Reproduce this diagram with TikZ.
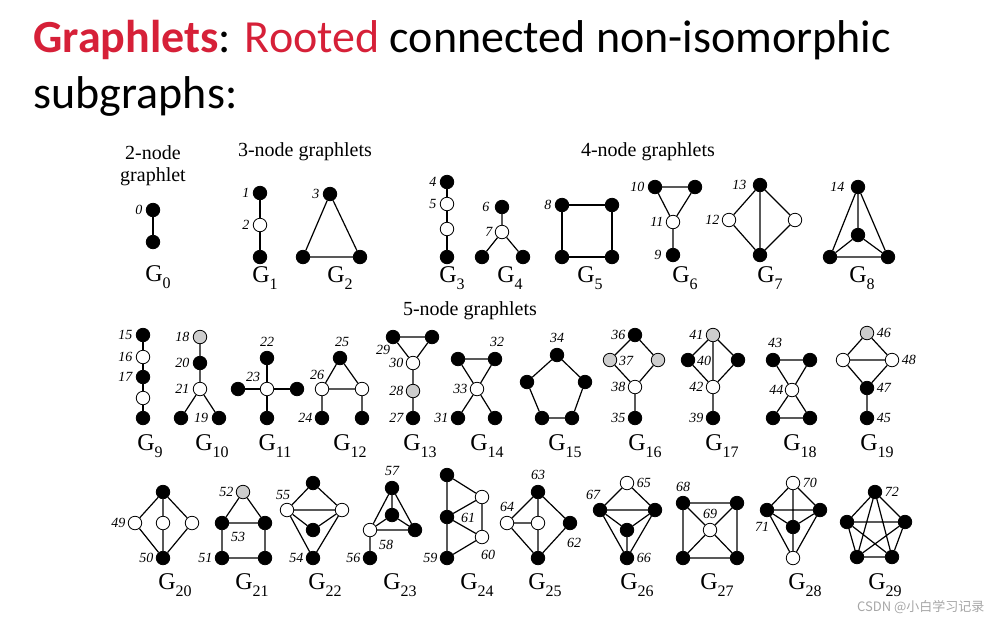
\documentclass[tikz,border=0pt]{standalone}
\usepackage{fontspec}
\usetikzlibrary{positioning}
\setmainfont{Liberation Serif}
\newfontfamily\titlefont{Carlito}
\newfontfamily\cjk{Noto Sans CJK SC}
\definecolor{tred}{RGB}{214,32,56}
\definecolor{ngray}{RGB}{205,205,205}
\newcommand{\gsub}[1]{G\raisebox{-0.28em}{\fontsize{16}{16}\selectfont #1}}
\begin{document}
\begin{tikzpicture}[x=1pt,y=-1pt,line width=1.2pt,
 v/.style={circle,draw=black,line width=0.8pt,minimum size=13.5pt,inner sep=0pt},
 b/.style={v,fill=black}, w/.style={v,fill=white}, g/.style={v,fill=ngray},
 lb/.style={font=\fontsize{14}{14}\selectfont\itshape,inner sep=0pt},
 gl/.style={font=\fontsize{24}{24}\selectfont,inner sep=0pt},
 hd/.style={font=\fontsize{20}{22}\selectfont,inner sep=0pt,align=center}]
\useasboundingbox (0,0) rectangle (994,625);
% title
\node[anchor=base west,inner sep=0pt,font=\titlefont\fontsize{46}{46}\selectfont] (t1) at (33,52) {\textcolor{tred}{\bfseries Graphlets}: \textcolor{tred}{Rooted} connected non-isomorphic};
\node[anchor=base west,inner sep=0pt,font=\titlefont\fontsize{46}{46}\selectfont] (t2) at (33,108) {subgraphs:};
% headers
\node[hd] (h2) at (153,166) {2-node\\graphlet};
\node[hd] (h3) at (305,152) {3-node graphlets};
\node[hd] (h4) at (648,152) {4-node graphlets};
\node[hd] (h5) at (470,311) {5-node graphlets};
% G0
\node[b] (a0) at (153,210) {}; \node[b] (a1) at (153,242) {};
\draw (a0)--(a1); \node[lb,left=3pt of a0] (l0) {0};
\node[gl] (n0) at (158,277) {\gsub{0}};
% G1
\node[b] (b1) at (260,193) {}; \node[w] (b2) at (260,225) {}; \node[b] (b3) at (260,257) {};
\draw (b1)--(b2)--(b3); \node[lb,left=3pt of b1] (l1) {1}; \node[lb,left=3pt of b2] (l2) {2};
\node[gl] (n1) at (265,278) {\gsub{1}};
% G2
\node[b] (c1) at (330,194) {}; \node[b] (c2) at (303,257) {}; \node[b] (c3) at (360,257) {};
\draw (c1)--(c2)--(c3)--(c1); \node[lb,left=3pt of c1] (l3) {3};
\node[gl] (n2) at (340,278) {\gsub{2}};
% G3
\node[b] (d1) at (447,182) {}; \node[w] (d2) at (447,204) {}; \node[w] (d3) at (447,229) {}; \node[b] (d4) at (447,257) {};
\draw (d1)--(d2)--(d3)--(d4); \node[lb,left=3pt of d1] (l4) {4}; \node[lb,left=3pt of d2] (l5) {5};
\node[gl] (n3) at (452,278) {\gsub{3}};
% G4
\node[b] (e1) at (502,207) {}; \node[w] (e2) at (502,232) {}; \node[b] (e3) at (482,257) {}; \node[b] (e4) at (523,257) {};
\draw (e1)--(e2)--(e3) (e2)--(e4); \node[lb,left=5pt of e1] (l6) {6}; \node[lb,left=2pt of e2] (l7) {7};
\node[gl] (n4) at (510,278) {\gsub{4}};
% G5
\node[b] (f1) at (562,205) {}; \node[b] (f2) at (612,205) {}; \node[b] (f3) at (612,257) {}; \node[b] (f4) at (562,257) {};
\draw (f1)--(f2)--(f3)--(f4)--(f1); \node[lb,left=3pt of f1] (l8) {8};
\node[gl] (n5) at (590,278) {\gsub{5}};
% G6
\node[b] (g1) at (655,187) {}; \node[b] (g2) at (695,187) {}; \node[w] (g3) at (673,222) {}; \node[b] (g4) at (673,255) {};
\draw (g1)--(g2)--(g3)--(g1) (g3)--(g4); \node[lb,left=3pt of g1] (l10) {10}; \node[lb,left=2pt of g3] (l11) {11}; \node[lb,left=4pt of g4] (l9) {9};
\node[gl] (n6) at (685,278) {\gsub{6}};
% G7
\node[b] (h1) at (760,185) {}; \node[w] (hh2) at (729,220) {}; \node[w] (hh3) at (795,220) {}; \node[b] (hh4) at (760,255) {};
\draw (h1)--(hh2)--(hh4)--(hh3)--(h1)--(hh4); \node[lb,left=6pt of h1] (l13) {13}; \node[lb,left=2pt of hh2] (l12) {12};
\node[gl] (n7) at (770,278) {\gsub{7}};
% G8
\node[b] (i1) at (858,187) {}; \node[b] (i2) at (858,235) {}; \node[b] (i3) at (830,257) {}; \node[b] (i4) at (888,257) {};
\draw (i1)--(i3)--(i4)--(i1)--(i2)--(i3) (i2)--(i4); \node[lb,left=6pt of i1] (l14) {14};
\node[gl] (n8) at (862,278) {\gsub{8}};
% G9
\node[b] (j1) at (143,335) {}; \node[w] (j2) at (143,357) {}; \node[b] (j3) at (143,377) {}; \node[w] (j4) at (143,398) {}; \node[b] (j5) at (143,418) {};
\draw (j1)--(j2)--(j3)--(j4)--(j5);
\node[lb,left=3pt of j1] (l15) {15}; \node[lb,left=3pt of j2] (l16) {16}; \node[lb,left=3pt of j3] (l17) {17};
\node[gl] (n9) at (150,446) {\gsub{9}};
% G10
\node[g] (k1) at (200,337) {}; \node[b] (k2) at (200,363) {}; \node[w] (k3) at (200,389) {}; \node[b] (k4) at (181,418) {}; \node[b] (k5) at (219,418) {};
\draw (k1)--(k2)--(k3)--(k4) (k3)--(k5);
\node[lb,left=3pt of k1] (l18) {18}; \node[lb,left=3pt of k2] (l20) {20}; \node[lb,left=3pt of k3] (l21) {21}; \node[lb] (l19) at (201,418) {19};
\node[gl] (n10) at (212,446) {\gsub{10}};
% G11
\node[b] (m1) at (267,358) {}; \node[w] (m2) at (267,389) {}; \node[b] (m3) at (238,389) {}; \node[b] (m4) at (297,389) {}; \node[b] (m5) at (267,418) {};
\draw (m1)--(m2)--(m3) (m2)--(m4) (m2)--(m5);
\node[lb] (l22) at (267,342) {22}; \node[lb] (l23) at (253,377) {23};
\node[gl] (n11) at (275,446) {\gsub{11}};
% G12
\node[b] (o1) at (340,358) {}; \node[w] (o2) at (322,389) {}; \node[w] (o3) at (362,389) {}; \node[b] (o4) at (322,418) {}; \node[b] (o5) at (362,418) {};
\draw (o1)--(o2)--(o3)--(o1) (o2)--(o4) (o3)--(o5);
\node[lb] (l25) at (342,342) {25}; \node[lb] (l26) at (317,375) {26}; \node[lb,left=2pt of o4] (l24) {24};
\node[gl] (n12) at (350,446) {\gsub{12}};
% G13
\node[b] (p1) at (393,337) {}; \node[b] (p2) at (432,337) {}; \node[w] (p3) at (413,363) {}; \node[g] (p4) at (413,391) {}; \node[b] (p5) at (413,418) {};
\draw (p1)--(p2)--(p3)--(p1) (p3)--(p4)--(p5);
\node[lb] (l29) at (383,350) {29}; \node[lb,left=2pt of p3] (l30) {30}; \node[lb,left=2pt of p4] (l28) {28}; \node[lb,left=2pt of p5] (l27) {27};
\node[gl] (n13) at (420,446) {\gsub{13}};
% G14
\node[b] (q1) at (458,359) {}; \node[b] (q2) at (495,359) {}; \node[w] (q3) at (477,389) {}; \node[b] (q4) at (458,418) {}; \node[b] (q5) at (495,418) {};
\draw (q1)--(q2)--(q3)--(q1) (q3)--(q4) (q3)--(q5);
\node[lb] (l32) at (497,342) {32}; \node[lb,left=2pt of q3] (l33) {33}; \node[lb,left=2pt of q4] (l31) {31};
\node[gl] (n14) at (487,446) {\gsub{14}};
% G15
\node[b] (r1) at (557,355) {}; \node[b] (r2) at (527,382) {}; \node[b] (r3) at (585,382) {}; \node[b] (r4) at (542,418) {}; \node[b] (r5) at (572,418) {};
\draw (r1)--(r2)--(r4)--(r5)--(r3)--(r1);
\node[lb] (l34) at (557,338) {34};
\node[gl] (n15) at (565,446) {\gsub{15}};
% G16
\node[b] (s1) at (635,335) {}; \node[g] (s2) at (610,360) {}; \node[g] (s3) at (658,360) {}; \node[w] (s4) at (635,387) {}; \node[b] (s5) at (635,418) {};
\draw (s1)--(s2)--(s4)--(s3)--(s1) (s4)--(s5);
\node[lb,left=2pt of s1] (l36) {36}; \node[lb] (l37) at (626,361) {37}; \node[lb,left=2pt of s4] (l38) {38}; \node[lb,left=2pt of s5] (l35) {35};
\node[gl] (n16) at (645,446) {\gsub{16}};
% G17
\node[g] (u1) at (713,335) {}; \node[b] (u2) at (688,360) {}; \node[b] (u3) at (738,360) {}; \node[w] (u4) at (713,387) {}; \node[b] (u5) at (713,418) {};
\draw (u1)--(u2)--(u4)--(u3)--(u1)--(u4)--(u5);
\node[lb,left=2pt of u1] (l41) {41}; \node[lb] (l40) at (704,361) {40}; \node[lb,left=2pt of u4] (l42) {42}; \node[lb,left=2pt of u5] (l39) {39};
\node[gl] (n17) at (722,446) {\gsub{17}};
% G18
\node[b] (x1) at (773,360) {}; \node[b] (x2) at (810,360) {}; \node[w] (x3) at (792,390) {}; \node[b] (x4) at (773,418) {}; \node[b] (x5) at (810,418) {};
\draw (x1)--(x2)--(x3)--(x1) (x3)--(x4)--(x5)--(x3);
\node[lb] (l43) at (775,343) {43}; \node[lb,left=1pt of x3] (l44) {44};
\node[gl] (n18) at (800,446) {\gsub{18}};
% G19
\node[g] (y1) at (867,333) {}; \node[w] (y2) at (843,360) {}; \node[w] (y3) at (892,360) {}; \node[b] (y4) at (867,388) {}; \node[b] (y5) at (867,418) {};
\draw (y1)--(y2)--(y3)--(y1) (y2)--(y4)--(y3) (y4)--(y5);
\node[lb,right=2pt of y1] (l46) {46}; \node[lb,right=2pt of y3] (l48) {48}; \node[lb,right=2pt of y4] (l47) {47}; \node[lb,right=2pt of y5] (l45) {45};
\node[gl] (n19) at (877,446) {\gsub{19}};
% G20
\node[b] (z1) at (163,492) {}; \node[w] (z2) at (135,523) {}; \node[w] (z3) at (163,523) {}; \node[w] (z4) at (192,523) {}; \node[b] (z5) at (163,558) {};
\draw (z1)--(z2)--(z5)--(z3)--(z1)--(z4)--(z5);
\node[lb,left=2pt of z2] (l49) {49}; \node[lb,left=2pt of z5] (l50) {50};
\node[gl] (n20) at (175,585) {\gsub{20}};
% G21
\node[g] (aa1) at (243,492) {}; \node[b] (aa2) at (222,523) {}; \node[b] (aa3) at (265,523) {}; \node[b] (aa4) at (222,558) {}; \node[b] (aa5) at (265,558) {};
\draw (aa1)--(aa2)--(aa3)--(aa1) (aa2)--(aa4)--(aa5)--(aa3);
\node[lb,left=2pt of aa1] (l52) {52}; \node[lb] (l53) at (238,537) {53}; \node[lb,left=2pt of aa4] (l51) {51};
\node[gl] (n21) at (252,585) {\gsub{21}};
% G22
\node[b] (bb1) at (313,483) {}; \node[w] (bb2) at (287,510) {}; \node[w] (bb3) at (342,510) {}; \node[b] (bb4) at (313,530) {}; \node[b] (bb5) at (313,558) {};
\draw (bb1)--(bb2)--(bb3)--(bb1) (bb2)--(bb4)--(bb3) (bb2)--(bb5)--(bb3);
\node[lb] (l55) at (283,495) {55}; \node[lb,left=2pt of bb5] (l54) {54};
\node[gl] (n22) at (325,585) {\gsub{22}};
% G23
\node[b] (cc1) at (392,488) {}; \node[b] (cc2) at (392,515) {}; \node[w] (cc3) at (370,530) {}; \node[b] (cc4) at (415,530) {}; \node[b] (cc5) at (370,558) {};
\draw (cc1)--(cc3)--(cc4)--(cc1)--(cc2)--(cc3) (cc2)--(cc4) (cc3)--(cc5);
\node[lb] (l57) at (392,471) {57}; \node[lb] (l58) at (386,545) {58}; \node[lb,left=2pt of cc5] (l56) {56};
\node[gl] (n23) at (400,585) {\gsub{23}};
% G24
\node[b] (dd1) at (447,475) {}; \node[w] (dd2) at (482,497) {}; \node[b] (dd3) at (447,517) {}; \node[w] (dd4) at (482,537) {}; \node[b] (dd5) at (447,558) {};
\draw (dd1)--(dd2)--(dd4)--(dd5)--(dd3)--(dd1) (dd3)--(dd2) (dd3)--(dd4);
\node[lb] (l61) at (468,518) {61}; \node[lb] (l60) at (488,555) {60}; \node[lb,left=2pt of dd5] (l59) {59};
\node[gl] (n24) at (477,585) {\gsub{24}};
% G25
\node[b] (ee1) at (538,492) {}; \node[w] (ee2) at (507,523) {}; \node[w] (ee3) at (538,523) {}; \node[b] (ee4) at (570,523) {}; \node[b] (ee5) at (538,558) {};
\draw (ee1)--(ee2)--(ee3)--(ee1)--(ee4)--(ee5)--(ee2) (ee3)--(ee5);
\node[lb] (l63) at (538,475) {63}; \node[lb] (l64) at (507,507) {64}; \node[lb] (l62) at (574,543) {62};
\node[gl] (n25) at (545,585) {\gsub{25}};
% G26
\node[w] (ff1) at (627,483) {}; \node[b] (ff2) at (600,510) {}; \node[b] (ff3) at (655,510) {}; \node[b] (ff4) at (627,530) {}; \node[b] (ff5) at (627,558) {};
\draw (ff1)--(ff2)--(ff3)--(ff1) (ff2)--(ff4)--(ff3) (ff2)--(ff5)--(ff3) (ff4)--(ff5);
\node[lb,right=2pt of ff1] (l65) {65}; \node[lb] (l67) at (593,495) {67}; \node[lb,right=2pt of ff5] (l66) {66};
\node[gl] (n26) at (637,585) {\gsub{26}};
% G27
\node[b] (gg1) at (683,503) {}; \node[b] (gg2) at (737,503) {}; \node[w] (gg3) at (710,530) {}; \node[b] (gg4) at (683,558) {}; \node[b] (gg5) at (737,558) {};
\draw (gg1)--(gg2)--(gg5)--(gg4)--(gg1)--(gg3)--(gg2) (gg3)--(gg4) (gg3)--(gg5);
\node[lb] (l68) at (683,487) {68}; \node[lb] (l69) at (710,514) {69};
\node[gl] (n27) at (717,585) {\gsub{27}};
% G28
\node[w] (hk1) at (793,483) {}; \node[b] (hk2) at (767,510) {}; \node[b] (hk3) at (820,510) {}; \node[b] (hk4) at (793,527) {}; \node[w] (hk5) at (793,558) {};
\draw (hk1)--(hk2)--(hk3)--(hk1)--(hk4) (hk2)--(hk4)--(hk3) (hk2)--(hk5)--(hk3) (hk4)--(hk5);
\node[lb,right=2pt of hk1] (l70) {70}; \node[lb] (l71) at (762,527) {71};
\node[gl] (n28) at (805,585) {\gsub{28}};
% G29
\node[b] (kk1) at (875,492) {}; \node[b] (kk2) at (847,522) {}; \node[b] (kk3) at (905,522) {}; \node[b] (kk4) at (857,557) {}; \node[b] (kk5) at (892,557) {};
\draw (kk1)--(kk2)--(kk4)--(kk5)--(kk3)--(kk1)--(kk4)--(kk3)--(kk2)--(kk5)--(kk1);
\node[lb,right=2pt of kk1] (l72) {72};
\node[gl] (n29) at (885,585) {\gsub{29}};
% watermark
\node[anchor=east,inner sep=0pt,text=black!35,font=\cjk\fontsize{13}{13}\selectfont] (wm) at (985,607) {CSDN @小白学习记录};
\end{tikzpicture}
\end{document}
